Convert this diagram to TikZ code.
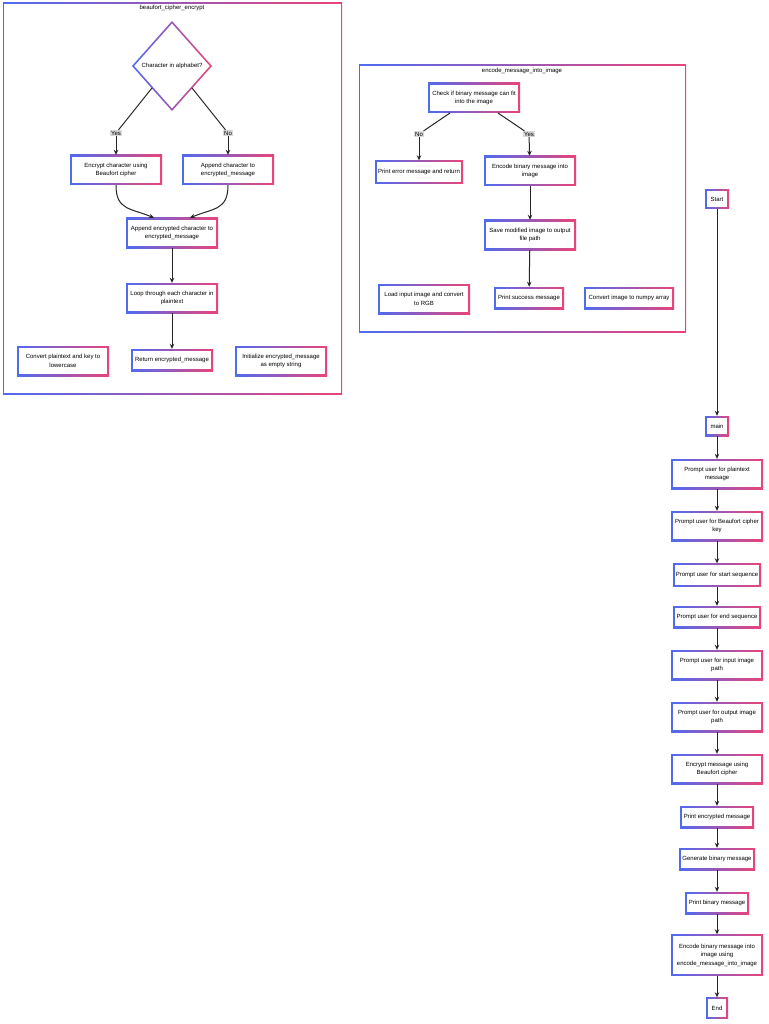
\documentclass[tikz,border=0pt]{standalone}
\usepackage{fontspec}
\setmainfont{Liberation Sans}
\usetikzlibrary{arrows.meta}
\definecolor{cb}{HTML}{4F6BF0}
\definecolor{cp}{HTML}{EA4479}
\begin{document}
\begin{tikzpicture}[x=1pt,y=-1pt,
  font=\fontsize{6}{8.5}\selectfont,
  gb/.style={left color=cb,right color=cp,inner sep=0pt,align=center,
    path picture={\fill[white] ([shift={(1.6pt,1.6pt)}]path picture bounding box.south west) rectangle ([shift={(-1.6pt,-1.6pt)}]path picture bounding box.north east);}},
  ar/.style={-{Stealth[length=5pt,width=4.5pt]},line width=1pt,draw=black!85},
  ln/.style={line width=1pt,draw=black!85},
  lab/.style={fill=black!15,inner sep=0.8pt}]
\useasboundingbox (0,0) rectangle (768,1024);
\newcommand{\gbx}[6]{\node[gb,minimum width=#4,minimum height=#5] (#1) at (#2,#3) {#6};}
% clusters
\shade[left color=cb,right color=cp] (3,3) rectangle (342,394);
\fill[white] (4.4,4.4) rectangle (340.6,392.6);
\node (t1) at (172,8) {beaufort\_cipher\_encrypt};
\shade[left color=cb,right color=cp] (359,65) rectangle (686,332);
\fill[white] (360.4,66.4) rectangle (684.6,330.6);
\node (t2) at (522,71) {encode\_message\_into\_image};
% diamond
\shade[left color=cb,right color=cp] (132,66) -- (172,21) -- (212,66) -- (172,111) -- cycle;
\fill[white] (134.3,66) -- (172,23.6) -- (209.7,66) -- (172,108.4) -- cycle;
\node[minimum width=80,minimum height=90,inner sep=0] (d) at (172,66) {Character in alphabet?};
\coordinate (dl) at (152,88);
\coordinate (dr) at (192,88);
\gbx{enc}{116}{170}{92}{30}{Encrypt character using\\Beaufort cipher}
\gbx{app}{228}{170}{92}{30}{Append character to\\encrypted\_message}
\gbx{appe}{172}{233}{92}{30}{Append encrypted character to\\encrypted\_message}
\gbx{loop}{172}{298}{92}{30}{Loop through each character in\\plaintext}
\gbx{conv}{63}{361}{92}{30}{Convert plaintext and key to\\lowercase}
\gbx{ret}{172}{360}{82}{22}{Return encrypted\_message}
\gbx{init}{281}{361}{92}{30}{Initialize encrypted\_message\\as empty string}
\node[lab] (yes1) at (116,133) {Yes};
\node[lab] (no1) at (228,133) {No};
\draw[ln] (dl) -- (yes1);
\draw[ar] (yes1) -- (enc);
\draw[ln] (dr) -- (no1);
\draw[ar] (no1) -- (app);
\draw[ar] (enc.south) .. controls (116,210) and (130,208) .. ([xshift=-18]appe.north);
\draw[ar] (app.south) .. controls (228,210) and (214,208) .. ([xshift=18]appe.north);
\draw[ar] (appe) -- (loop);
\draw[ar] (loop) -- (ret);
% cluster 2
\gbx{chk}{474}{98}{92}{30}{Check if binary message can fit\\into the image}
\gbx{perr}{419}{172}{88}{23}{Print error message and return}
\gbx{encb}{530}{171}{92}{30}{Encode binary message into\\image}
\gbx{save}{530}{235}{92}{30}{Save modified image to output\\file path}
\gbx{psuc}{529}{298}{70}{22}{Print success message}
\gbx{load}{424}{299}{92}{30}{Load input image and convert\\to RGB}
\gbx{cimg}{629}{298}{90}{22}{Convert image to numpy array}
\node[lab] (no2) at (419,134) {No};
\node[lab] (yes2) at (529,134) {Yes};
\draw[ln] (450,113) -- (no2);
\draw[ar] (no2) -- (perr);
\draw[ln] (498,113) -- (yes2);
\draw[ar] (yes2) -- (encb);
\draw[ar] (encb) -- (save);
\draw[ar] (save) -- (psuc);
% main column
\gbx{start}{717}{199}{24}{19}{Start}
\gbx{main}{717}{426}{24}{20}{main}
\gbx{p1}{717}{474}{92}{30}{Prompt user for plaintext\\message}
\gbx{p2}{717}{526}{92}{30}{Prompt user for Beaufort cipher\\key}
\gbx{p3}{717}{575}{88}{23}{Prompt user for start sequence}
\gbx{p4}{717}{617}{88}{22}{Prompt user for end sequence}
\gbx{p5}{717}{665}{92}{30}{Prompt user for input image\\path}
\gbx{p6}{717}{717}{92}{30}{Prompt user for output image\\path}
\gbx{p7}{717}{769}{92}{30}{Encrypt message using\\Beaufort cipher}
\gbx{p8}{717}{817}{74}{22}{Print encrypted message}
\gbx{p9}{717}{859}{76}{22}{Generate binary message}
\gbx{p10}{717}{903}{64}{22}{Print binary message}
\gbx{p11}{717}{955}{92}{41}{Encode binary message into\\image using\\encode\_message\_into\_image}
\gbx{end}{717}{1008}{22}{21}{End}
\draw[ar] (start) -- (main);
\draw[ar] (main) -- (p1);
\draw[ar] (p1) -- (p2);
\draw[ar] (p2) -- (p3);
\draw[ar] (p3) -- (p4);
\draw[ar] (p4) -- (p5);
\draw[ar] (p5) -- (p6);
\draw[ar] (p6) -- (p7);
\draw[ar] (p7) -- (p8);
\draw[ar] (p8) -- (p9);
\draw[ar] (p9) -- (p10);
\draw[ar] (p10) -- (p11);
\draw[ar] (p11) -- (end);
\end{tikzpicture}
\end{document}
